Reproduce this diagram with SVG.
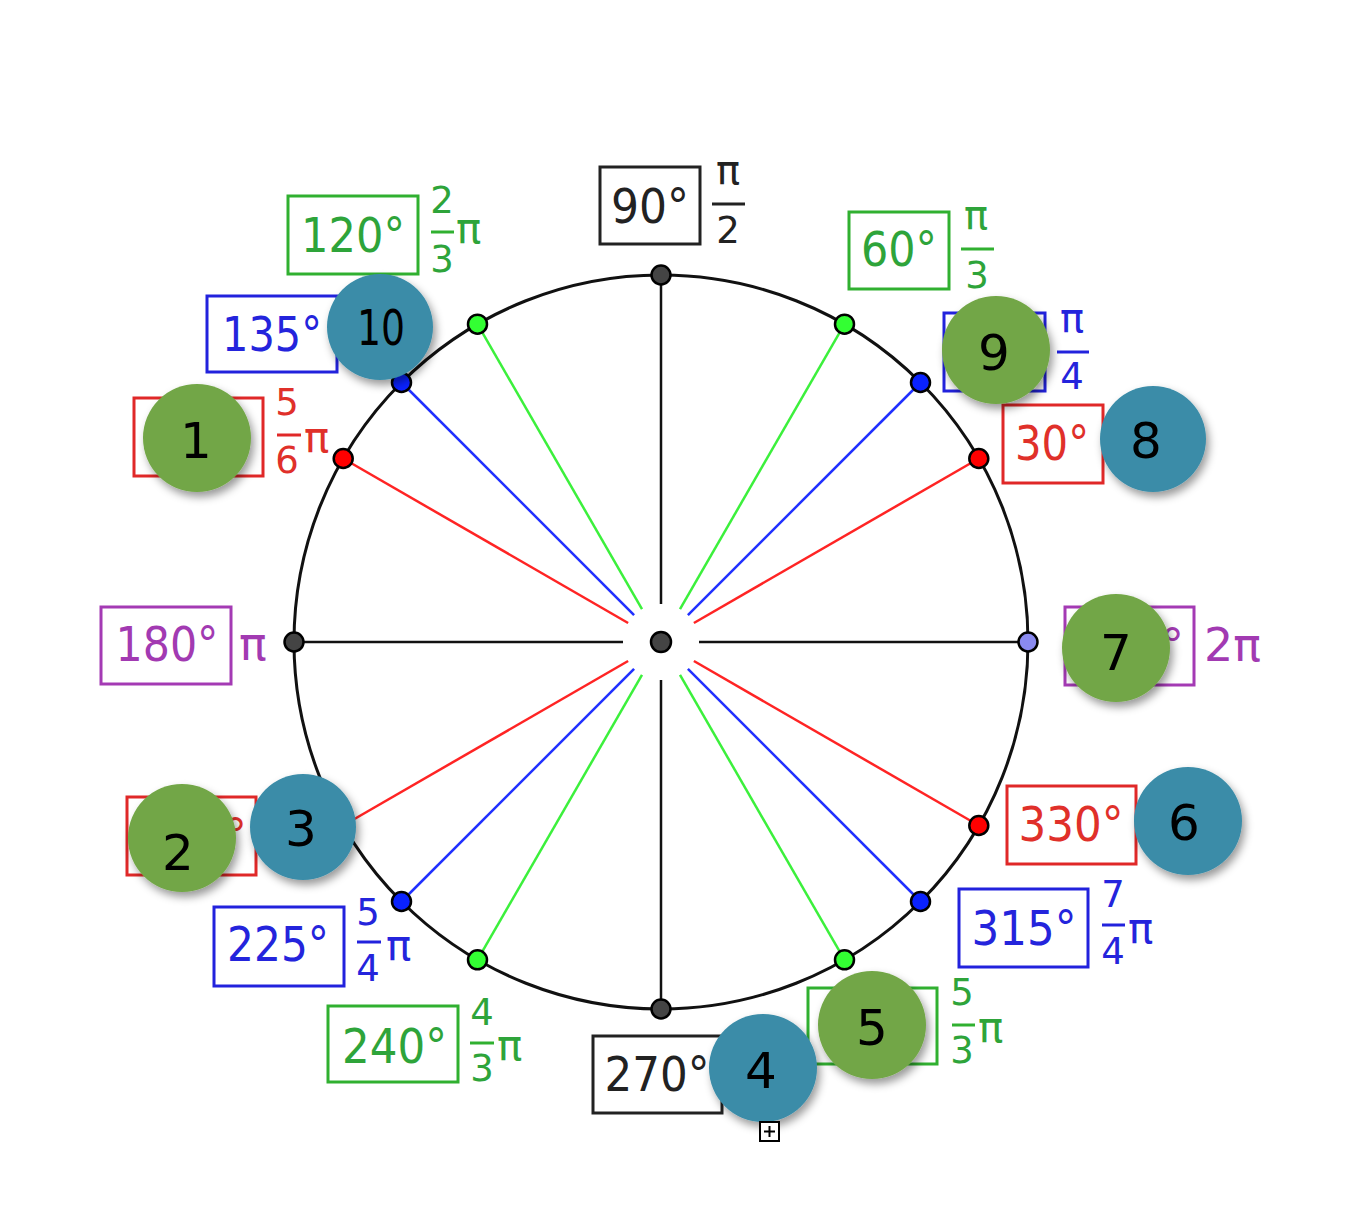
<svg xmlns="http://www.w3.org/2000/svg" width="1358" height="1226" viewBox="0 0 1358 1226">
<defs>
<filter id="sh" x="-30%" y="-30%" width="160%" height="170%">
<feDropShadow dx="3" dy="5" stdDeviation="4" flood-color="#000" flood-opacity="0.4"/>
</filter>
<style>
.t{font-family:"DejaVu Sans","Liberation Sans",sans-serif;text-anchor:middle}
.deg{font-size:48px}
.fr{font-size:37px}
.pi{font-size:42px;text-anchor:start}
.pib{font-size:46px;text-anchor:start}
.box{fill:#fff;stroke-width:3}
.bar{stroke-width:3}
.red{fill:#e0302a}.redS{stroke:#e02828}
.grn{fill:#2ea43a}.grnS{stroke:#30b030}
.blu{fill:#2424dc}.bluS{stroke:#2222dd}
.pur{fill:#a23ab2}.purS{stroke:#a43ab4}
.blk{fill:#222}.blkS{stroke:#222}
.ln{stroke-width:2.5;fill:none}
.dot{stroke:#000;stroke-width:2.5}
.bg{filter:url(#sh)}
.gB{fill:#72a646}.bB{fill:#3a8ca8}
.num{font-family:"DejaVu Sans","Liberation Sans",sans-serif;font-size:50px;text-anchor:middle;fill:#000}
</style>
</defs>
<rect width="1358" height="1226" fill="#fff"/>

<g id="connectors">
<circle cx="661" cy="642" r="367" fill="none" stroke="#111" stroke-width="3"/>
<line class="ln" stroke="#111" x1="661" y1="604" x2="661" y2="275"/>
<line class="ln" stroke="#111" x1="661" y1="680" x2="661" y2="1009"/>
<line class="ln" stroke="#111" x1="623" y1="642" x2="294" y2="642"/>
<line class="ln" stroke="#111" x1="699" y1="642" x2="1028" y2="642"/>
<line class="ln" stroke="#ff2424" x1="693.9" y1="623" x2="978.8" y2="458.5"/>
<line class="ln" stroke="#ff2424" x1="628.1" y1="623" x2="343.2" y2="458.5"/>
<line class="ln" stroke="#ff2424" x1="628.1" y1="661" x2="343.2" y2="825.5"/>
<line class="ln" stroke="#ff2424" x1="693.9" y1="661" x2="978.8" y2="825.5"/>
<line class="ln" stroke="#2030ff" x1="687.9" y1="615.1" x2="920.5" y2="382.5"/>
<line class="ln" stroke="#2030ff" x1="634.1" y1="615.1" x2="401.5" y2="382.5"/>
<line class="ln" stroke="#2030ff" x1="634.1" y1="668.9" x2="401.5" y2="901.5"/>
<line class="ln" stroke="#2030ff" x1="687.9" y1="668.9" x2="920.5" y2="901.5"/>
<line class="ln" stroke="#3cf03c" x1="680" y1="609.1" x2="844.5" y2="324.2"/>
<line class="ln" stroke="#3cf03c" x1="642" y1="609.1" x2="477.5" y2="324.2"/>
<line class="ln" stroke="#3cf03c" x1="642" y1="674.9" x2="477.5" y2="959.8"/>
<line class="ln" stroke="#3cf03c" x1="680" y1="674.9" x2="844.5" y2="959.8"/>
</g>

<g id="points">
<circle class="dot" cx="661" cy="642" r="10" fill="#444"/>
<circle class="dot" cx="661" cy="275" r="9.5" fill="#444"/>
<circle class="dot" cx="661" cy="1009" r="9.5" fill="#444"/>
<circle class="dot" cx="294" cy="642" r="9.5" fill="#444"/>
<circle class="dot" cx="1028" cy="642" r="9.5" fill="#8a8af0"/>
<circle class="dot" cx="978.8" cy="458.5" r="9.5" fill="#ff0000"/>
<circle class="dot" cx="343.2" cy="458.5" r="9.5" fill="#ff0000"/>
<circle class="dot" cx="343.2" cy="825.5" r="9.5" fill="#ff0000"/>
<circle class="dot" cx="978.8" cy="825.5" r="9.5" fill="#ff0000"/>
<circle class="dot" cx="920.5" cy="382.5" r="9.5" fill="#0a22ff"/>
<circle class="dot" cx="401.5" cy="382.5" r="9.5" fill="#0a22ff"/>
<circle class="dot" cx="401.5" cy="901.5" r="9.5" fill="#0a22ff"/>
<circle class="dot" cx="920.5" cy="901.5" r="9.5" fill="#0a22ff"/>
<circle class="dot" cx="844.5" cy="324.2" r="9.5" fill="#33ff33"/>
<circle class="dot" cx="477.5" cy="324.2" r="9.5" fill="#33ff33"/>
<circle class="dot" cx="477.5" cy="959.8" r="9.5" fill="#33ff33"/>
<circle class="dot" cx="844.5" cy="959.8" r="9.5" fill="#33ff33"/>
</g>

<g id="label-90">
<rect class="box blkS" x="600" y="167" width="100" height="77"/>
<text class="t deg blk" x="650" y="223" textLength="78" lengthAdjust="spacingAndGlyphs">90°</text>
<text class="t fr blk" x="728" y="184" style="font-size:40px">π</text>
<line class="bar blkS" x1="712" y1="204" x2="745" y2="204"/>
<text class="t fr blk" x="728" y="243">2</text>
</g>

<g id="label-60">
<rect class="box grnS" x="849" y="212" width="100" height="77"/>
<text class="t deg grn" x="899" y="266" textLength="76" lengthAdjust="spacingAndGlyphs">60°</text>
<text class="t fr grn" x="976" y="229" style="font-size:40px">π</text>
<line class="bar grnS" x1="961" y1="249" x2="994" y2="249"/>
<text class="t fr grn" x="977" y="288">3</text>
</g>

<g id="label-45">
<rect class="box bluS" x="944" y="313" width="101" height="78"/>
<text class="t fr blu" x="1072" y="332" style="font-size:40px">π</text>
<line class="bar bluS" x1="1057" y1="352" x2="1089" y2="352"/>
<text class="t fr blu" x="1072" y="389">4</text>
</g>

<g id="label-30">
<rect class="box redS" x="1003" y="405" width="100" height="78"/>
<text class="t deg red" x="1052" y="460" textLength="74" lengthAdjust="spacingAndGlyphs">30°</text>
</g>

<g id="label-0">
<rect class="box purS" x="1065" y="607" width="129" height="78"/>
<text class="t pib pur" x="1161" y="661">°</text>
<text class="t pib pur" x="1204" y="661">2π</text>
</g>

<g id="label-330">
<rect class="box redS" x="1007" y="786" width="129" height="78"/>
<text class="t deg red" x="1071" y="841" textLength="105" lengthAdjust="spacingAndGlyphs">330°</text>
</g>

<g id="label-315">
<rect class="box bluS" x="959" y="889" width="129" height="78"/>
<text class="t deg blu" x="1024" y="945" textLength="105" lengthAdjust="spacingAndGlyphs">315°</text>
<text class="t fr blu" x="1113" y="907">7</text>
<line class="bar bluS" x1="1102" y1="925" x2="1125" y2="925"/>
<text class="t fr blu" x="1113" y="964">4</text>
<text class="t pi blu" x="1128" y="943">π</text>
</g>

<g id="label-300">
<rect class="box grnS" x="808" y="988" width="129" height="76"/>
<text class="t fr grn" x="962" y="1005">5</text>
<line class="bar grnS" x1="952" y1="1025" x2="975" y2="1025"/>
<text class="t fr grn" x="962" y="1063">3</text>
<text class="t pi grn" x="978" y="1042">π</text>
</g>

<g id="label-270">
<rect class="box blkS" x="593" y="1036" width="129" height="77"/>
<text class="t deg blk" x="657" y="1091" textLength="105" lengthAdjust="spacingAndGlyphs">270°</text>
</g>

<g id="label-240">
<rect class="box grnS" x="328" y="1006" width="130" height="76"/>
<text class="t deg grn" x="394.5" y="1063" textLength="105" lengthAdjust="spacingAndGlyphs">240°</text>
<text class="t fr grn" x="482" y="1025">4</text>
<line class="bar grnS" x1="470" y1="1043" x2="494" y2="1043"/>
<text class="t fr grn" x="482" y="1081">3</text>
<text class="t pi grn" x="497" y="1060">π</text>
</g>

<g id="label-225">
<rect class="box bluS" x="214" y="907" width="130" height="79"/>
<text class="t deg blu" x="278" y="961" textLength="102" lengthAdjust="spacingAndGlyphs">225°</text>
<text class="t fr blu" x="368" y="925">5</text>
<line class="bar bluS" x1="357" y1="942" x2="381" y2="942"/>
<text class="t fr blu" x="368" y="981">4</text>
<text class="t pi blu" x="386" y="960">π</text>
</g>

<g id="label-210">
<rect class="box redS" x="127" y="797" width="129" height="78"/>
<text class="t pib red" x="224" y="851">°</text>
</g>

<g id="label-180">
<rect class="box purS" x="101" y="607" width="130" height="77"/>
<text class="t deg pur" x="167" y="661" textLength="103" lengthAdjust="spacingAndGlyphs">180°</text>
<text class="t pib pur" x="239" y="660">π</text>
</g>

<g id="label-150">
<rect class="box redS" x="134" y="398" width="129" height="78"/>
<text class="t fr red" x="287" y="415">5</text>
<line class="bar redS" x1="277" y1="435" x2="301" y2="435"/>
<text class="t fr red" x="287" y="473">6</text>
<text class="t pi red" x="304" y="452">π</text>
</g>

<g id="label-135">
<rect class="box bluS" x="207" y="296" width="130" height="76"/>
<text class="t deg blu" x="272" y="351" textLength="100" lengthAdjust="spacingAndGlyphs">135°</text>
</g>

<g id="label-120">
<rect class="box grnS" x="288" y="196" width="130" height="78"/>
<text class="t deg grn" x="353" y="252" textLength="104" lengthAdjust="spacingAndGlyphs">120°</text>
<text class="t fr grn" x="442" y="213">2</text>
<line class="bar grnS" x1="431" y1="232" x2="454" y2="232"/>
<text class="t fr grn" x="442" y="272">3</text>
<text class="t pi grn" x="456" y="243">π</text>
</g>

<g id="badge-1"><circle class="bg gB" cx="197" cy="438" r="54"/><text class="num" x="196" y="458">1</text></g>
<g id="badge-2"><circle class="bg gB" cx="182" cy="838" r="54"/><text class="num" x="178" y="870">2</text></g>
<g id="badge-3"><circle class="bg bB" cx="303" cy="827" r="53"/><text class="num" x="301" y="846">3</text></g>
<g id="badge-4"><circle class="bg bB" cx="763" cy="1068" r="54"/><text class="num" x="761" y="1088">4</text></g>
<g id="badge-5"><circle class="bg gB" cx="872" cy="1025" r="54"/><text class="num" x="872" y="1045">5</text></g>
<g id="badge-6"><circle class="bg bB" cx="1188" cy="821" r="54"/><text class="num" x="1184" y="840">6</text></g>
<g id="badge-7"><circle class="bg gB" cx="1116" cy="648" r="54"/><text class="num" x="1116" y="670">7</text></g>
<g id="badge-8"><circle class="bg bB" cx="1153" cy="439" r="53"/><text class="num" x="1146" y="458">8</text></g>
<g id="badge-9"><circle class="bg gB" cx="996" cy="350" r="54"/><text class="num" x="994" y="370">9</text></g>
<g id="badge-10"><circle class="bg bB" cx="380" cy="327" r="53"/><text class="num" x="381" y="345" textLength="48" lengthAdjust="spacingAndGlyphs">10</text></g>

<g id="expand-icon">
<rect x="760" y="1122" width="19" height="19" fill="#fff" stroke="#000" stroke-width="2"/>
<line x1="764" y1="1131.5" x2="775" y2="1131.5" stroke="#000" stroke-width="2"/>
<line x1="769.5" y1="1126" x2="769.5" y2="1137" stroke="#000" stroke-width="2"/>
</g>
</svg>
